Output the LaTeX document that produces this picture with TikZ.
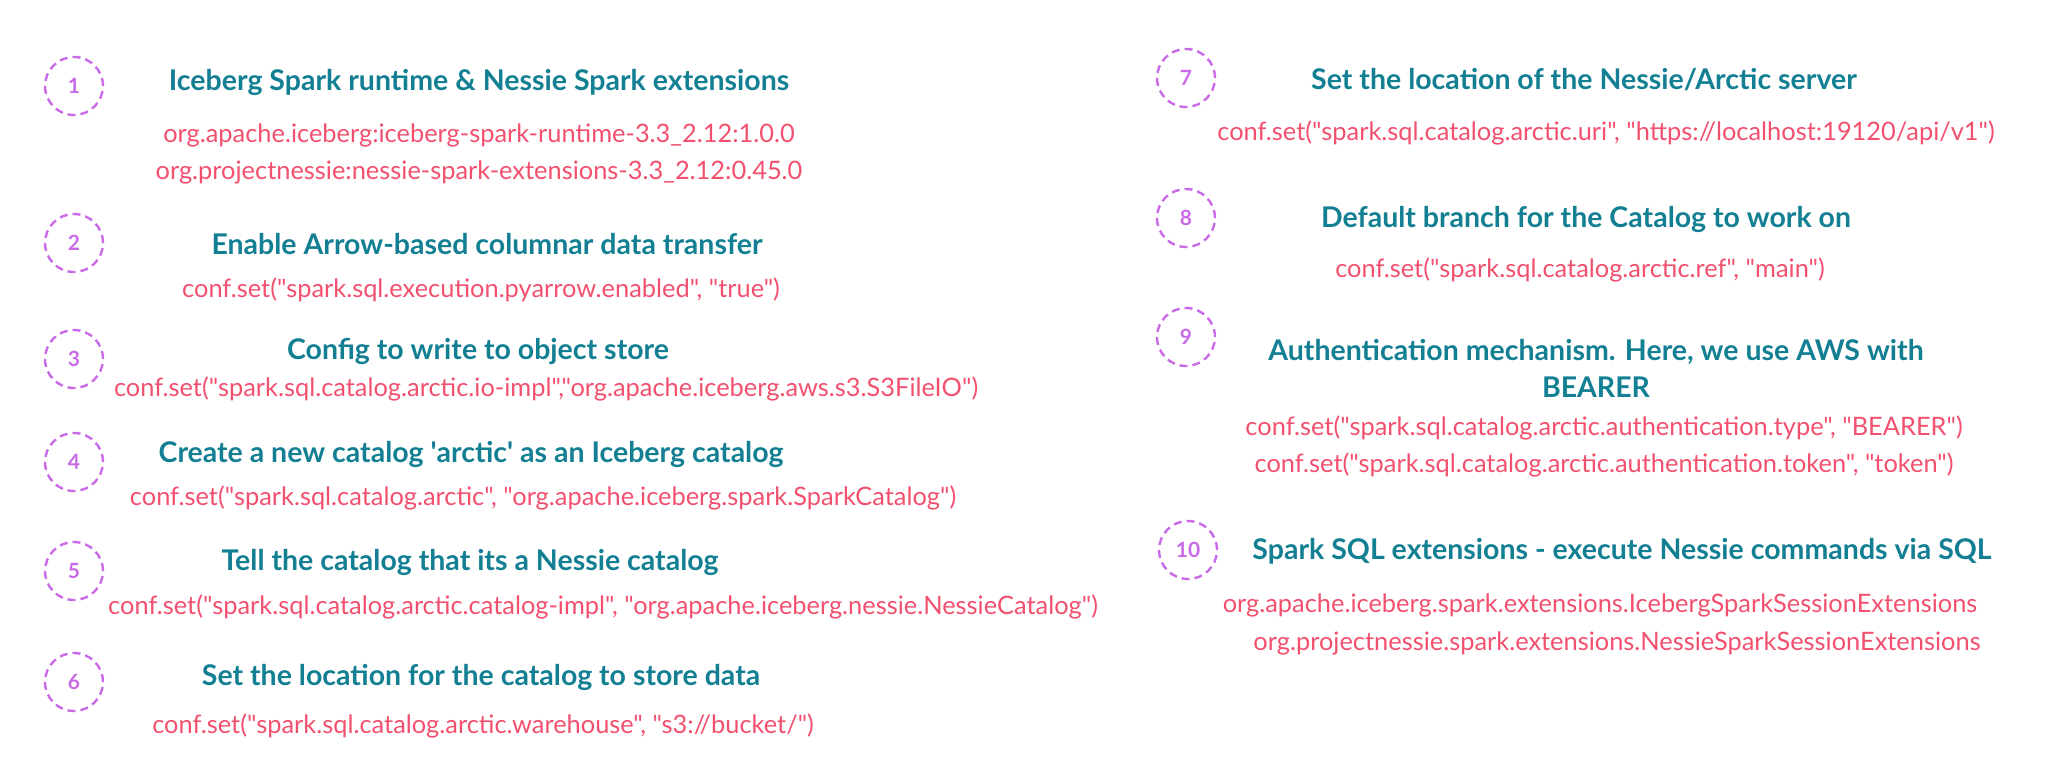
\documentclass[tikz,border=0pt]{standalone}
\usepackage{fontspec}
\setmainfont{Lato}
\newfontfamily\codefont{Lato}
\definecolor{teal}{HTML}{137F93}
\definecolor{codepink}{HTML}{F2506E}
\definecolor{circ}{HTML}{C96BE6}
\tikzset{
 num/.style={circle,draw=circ,dashed,dash pattern=on 8pt off 5pt,line width=2.4pt,minimum size=58pt,inner sep=0pt,text=circ,font=\fontsize{21}{21}\selectfont\bfseries},
 ttl/.style={text=teal,font=\fontsize{28.5}{37}\selectfont\bfseries,align=center,inner sep=0pt},
 code/.style={text=codepink,font=\codefont\fontsize{25.4}{37}\selectfont,align=center,inner sep=0pt}
}
\begin{document}
\begin{tikzpicture}[x=1pt,y=-1pt]
\useasboundingbox (0,0) rectangle (2048,779);
\node[num] (c1) at (74,86) {1};
\node[ttl] (t1) at (479,82) {Iceberg Spark runtime \& Nessie Spark extensions};
\node[code] (k1) at (479,154) {org.apache.iceberg:iceberg-spark-runtime-3.3\_2.12:1.0.0\\org.projectnessie:nessie-spark-extensions-3.3\_2.12:0.45.0};
\node[num] (c2) at (74,243) {2};
\node[ttl] (t2) at (487,244) {Enable Arrow-based columnar data transfer};
\node[code] (k2) at (481,290) {conf.set("spark.sql.execution.pyarrow.enabled", "true")};
\node[num] (c3) at (74,359) {3};
\node[ttl] (t3) at (478,351) {Config to write to object store};
\node[code] (k3) at (546,389) {conf.set("spark.sql.catalog.arctic.io-impl","org.apache.iceberg.aws.s3.S3FileIO")};
\node[num] (c4) at (74,462) {4};
\node[ttl] (t4) at (471,454) {Create a new catalog {\codefont\bfseries'}arctic{\codefont\bfseries'} as an Iceberg catalog};
\node[code] (k4) at (543,498) {conf.set("spark.sql.catalog.arctic", "org.apache.iceberg.spark.SparkCatalog")};
\node[num] (c5) at (74,571) {5};
\node[ttl] (t5) at (470,562) {Tell the catalog that its a Nessie catalog};
\node[code] (k5) at (603,607) {conf.set("spark.sql.catalog.arctic.catalog-impl", "org.apache.iceberg.nessie.NessieCatalog")};
\node[num] (c6) at (74,682) {6};
\node[ttl] (t6) at (481,677) {Set the location for the catalog to store data};
\node[code] (k6) at (483,726) {conf.set("spark.sql.catalog.arctic.warehouse", "s3://bucket/")};
\node[num] (c7) at (1186,78) {7};
\node[ttl] (t7) at (1584,80) {Set the location of the Nessie/Arctic server};
\node[code] (k7) at (1606,133) {conf.set("spark.sql.catalog.arctic.uri", "https://localhost:19120/api/v1")};
\node[num] (c8) at (1186,218) {8};
\node[ttl] (t8) at (1586,219) {Default branch for the Catalog to work on};
\node[code] (k8) at (1580,270) {conf.set("spark.sql.catalog.arctic.ref", "main")};
\node[num] (c9) at (1186,337) {9};
\node[ttl] (t9) at (1596,368) {Authentication mechanism. Here, we use AWS with\\BEARER};
\node[code] (k9) at (1604,446) {conf.set("spark.sql.catalog.arctic.authentication.type", "BEARER")\\conf.set("spark.sql.catalog.arctic.authentication.token", "token")};
\node[num] (c10) at (1188,550) {10};
\node[ttl] (t10) at (1622,551) {Spark SQL extensions - execute Nessie commands via SQL};
\node[code] (k10a) at (1600,605) {org.apache.iceberg.spark.extensions.IcebergSparkSessionExtensions};
\node[code] (k10b) at (1617,643) {org.projectnessie.spark.extensions.NessieSparkSessionExtensions};
\end{tikzpicture}
\end{document}
